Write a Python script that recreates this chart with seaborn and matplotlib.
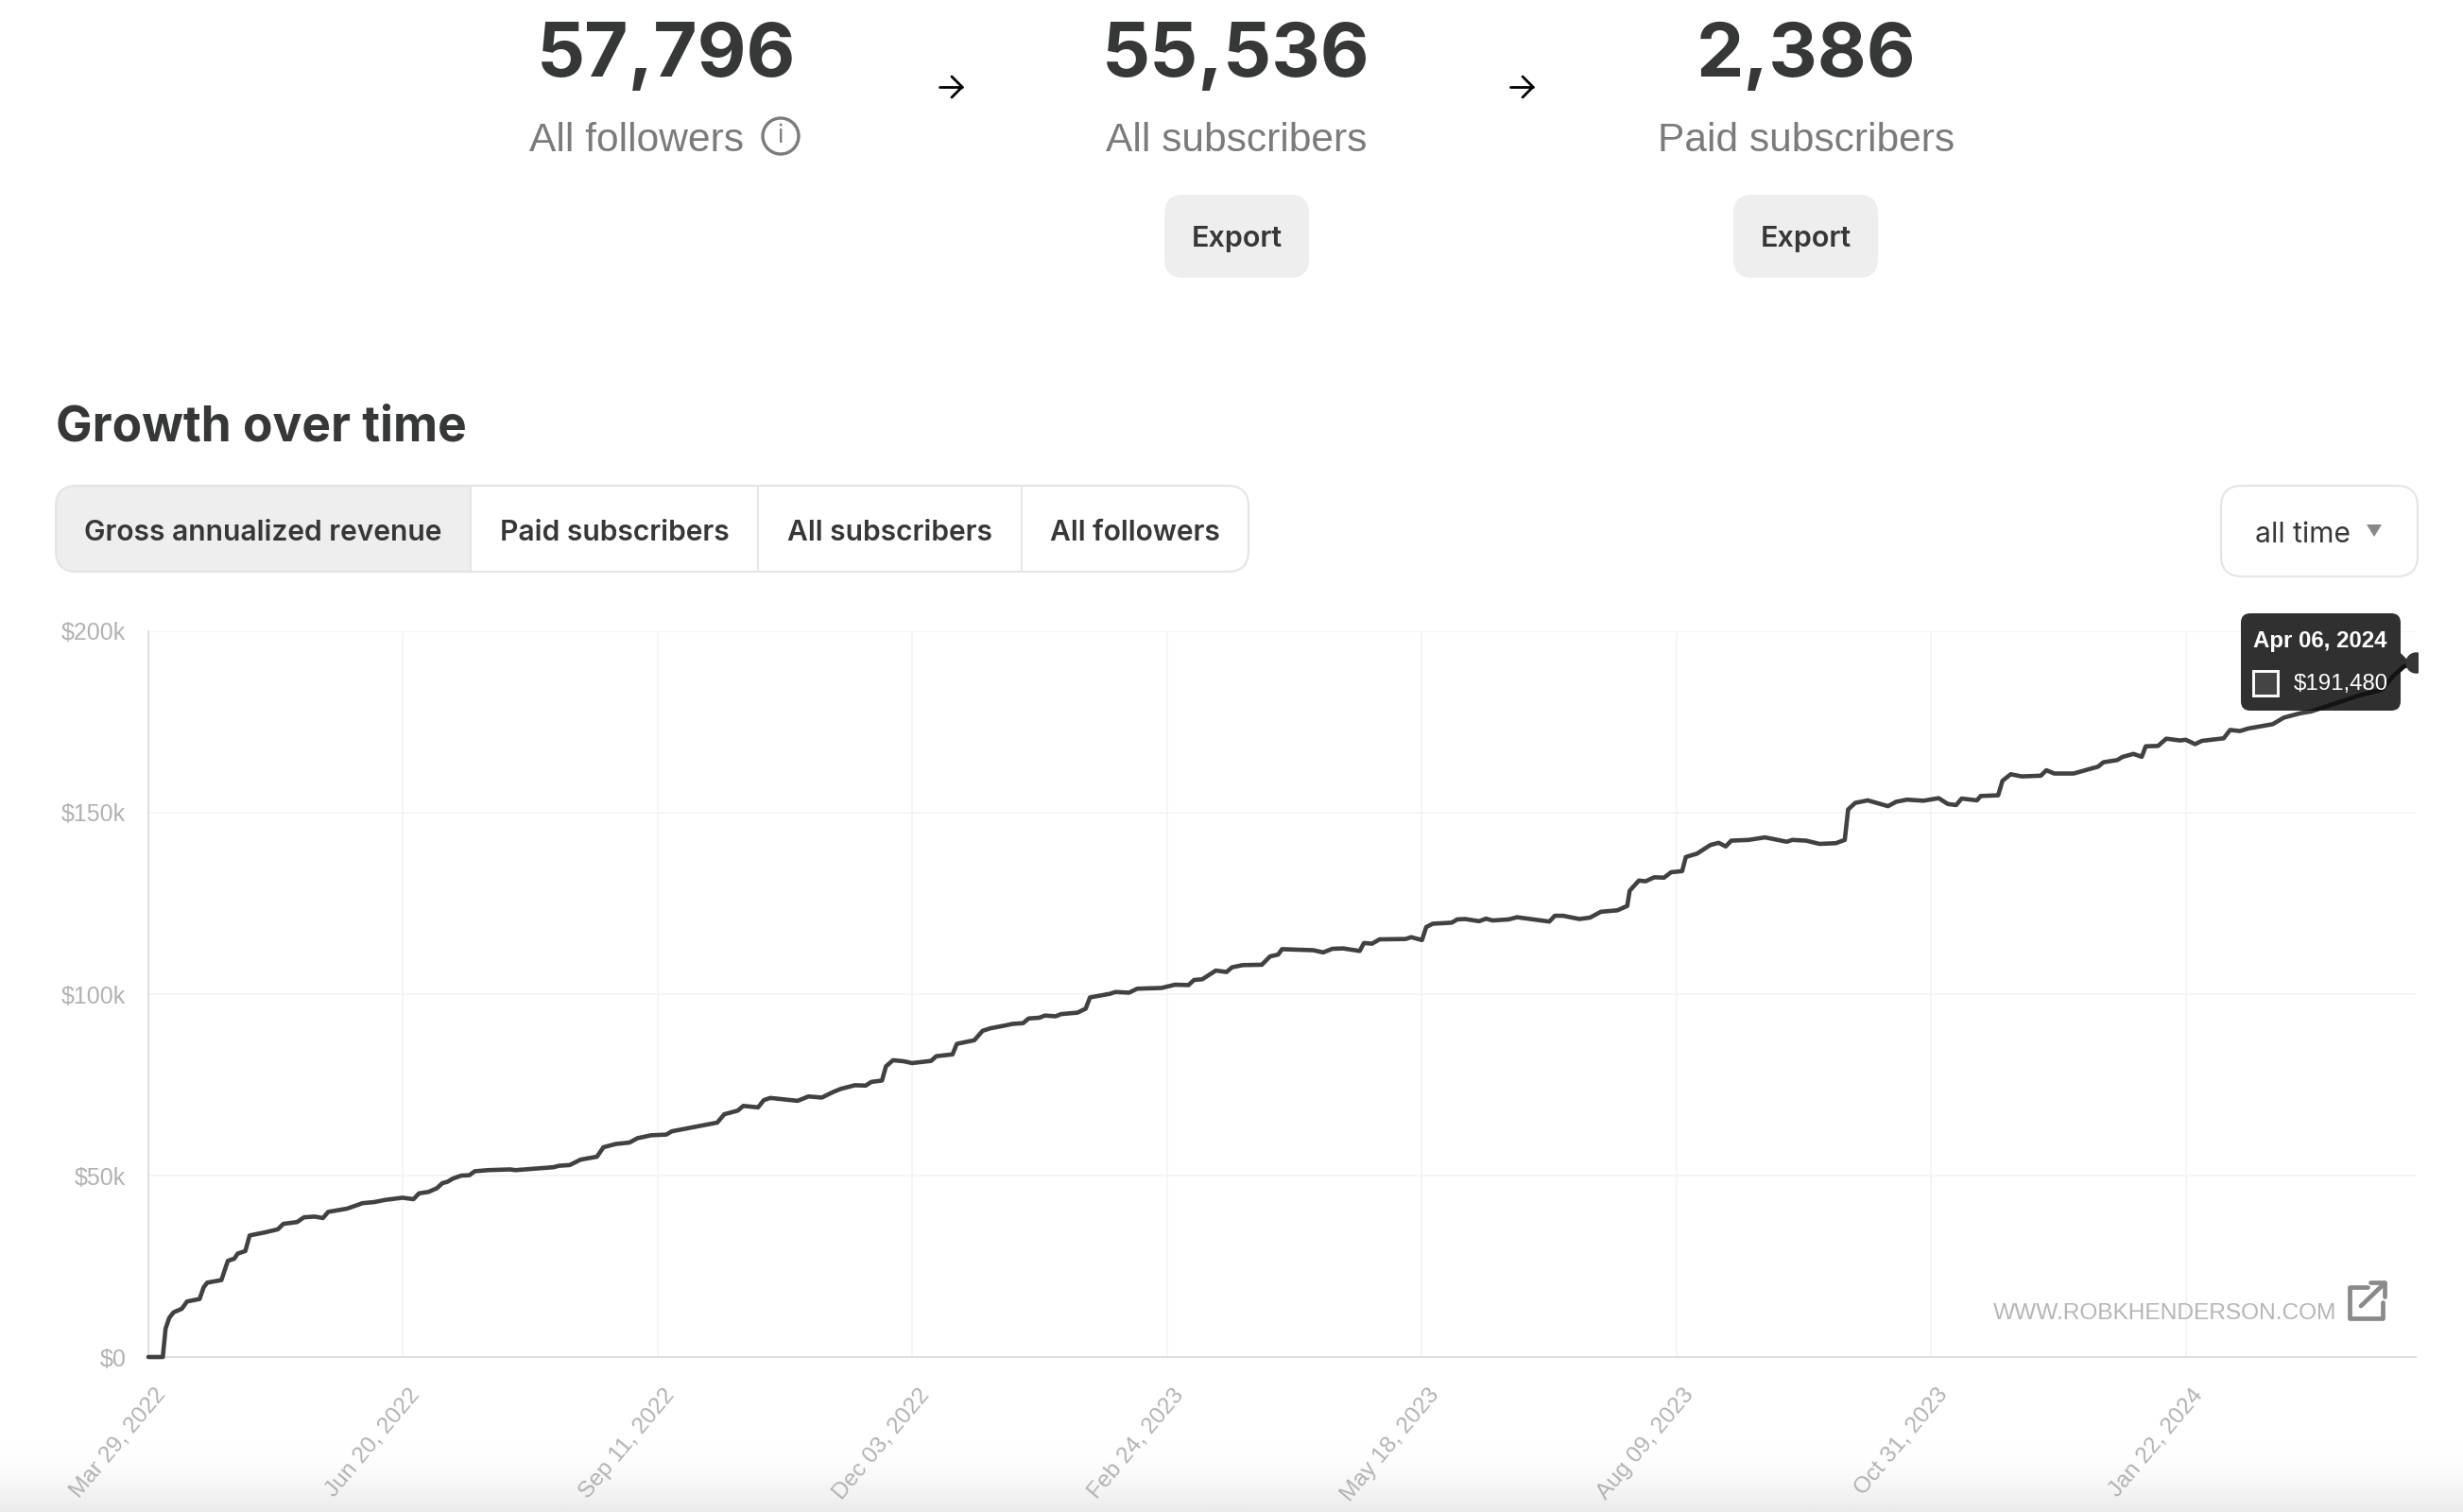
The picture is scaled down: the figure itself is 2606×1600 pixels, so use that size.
import pandas as pd
import numpy as np
import matplotlib.pyplot as plt
import matplotlib.transforms as mtrans
from matplotlib.colors import LinearSegmentedColormap
from matplotlib.patches import FancyBboxPatch, Rectangle, Circle, Polygon
from matplotlib.lines import Line2D
import seaborn as sns

# stat cards
stat_numbers = ["57,796", "55,536", "2,386"]
stat_labels = ["All followers", "All subscribers", "Paid subscribers"]
tab_labels = ["Gross annualized revenue", "Paid subscribers", "All subscribers", "All followers"]

# y axis
y_ticks = [0, 50000, 100000, 150000, 200000]
y_tick_labels = ["$0", "$50k", "$100k", "$150k", "$200k"]

# x axis
x_tick_dates = ["2022-03-29", "2022-06-20", "2022-09-11", "2022-12-03", "2023-02-24",
                "2023-05-18", "2023-08-09", "2023-10-31", "2024-01-22"]
x_tick_labels = ["Mar 29, 2022", "Jun 20, 2022", "Sep 11, 2022", "Dec 03, 2022", "Feb 24, 2023",
                 "May 18, 2023", "Aug 09, 2023", "Oct 31, 2023", "Jan 22, 2024"]

# revenue: days since Mar 29 2022, thousands of dollars
start_date = "2022-03-29"
end_date = "2024-04-06"
days = [0, 4.7, 5.6, 6.8, 8.2, 10.9, 12.6, 16.7, 18, 19.2, 23.8, 25.9, 28, 29.1, 31.6, 33, 38.3, 42.2, 44,
        48.5, 50.7, 54.2, 56.9, 58.6, 64.8, 69.8, 73.6, 77.2, 82.8, 86.4, 88.2, 91.3, 94, 95.8, 97.5, 99.3,
        102, 104.6, 106.4, 110.8, 117.9, 119.6, 132, 133.8, 137.3, 140.9, 146.2, 148.3, 152.3, 156.8, 159.4,
        163.8, 168.8, 170.6, 178, 185.4, 187.7, 192.1, 193.9, 198.7, 200.6, 202.7, 211.6, 215.1, 219.5,
        223.1, 225.7, 228.9, 230.3, 233.8, 235.6, 239.1, 240.4, 242.7, 246.2, 248.9, 255.1, 256.8, 262.1,
        263.5, 269.2, 271.9, 274.5, 278.9, 281.6, 285.1, 286.9, 290.4, 292.2, 295.7, 297.5, 302.8, 305.5,
        306.9, 313.4, 315.2, 319.6, 322.3, 330.2, 334.6, 339, 340.8, 343.5, 347.9, 351.4, 353.2, 356.7,
        362.9, 365.6, 368.2, 369.5, 379.7, 382.9, 385.9, 389.4, 394.8, 396.2, 398.8, 401.3, 409.8, 411.6,
        415.1, 416.5, 418.6, 424.8, 426.6, 429.2, 433.7, 436, 438.1, 443.4, 446.1, 451.4, 456.6, 458.4,
        461.1, 466.4, 469.9, 473.4, 478.8, 482, 482.8, 485.8, 488, 490.8, 494, 496.3, 499.9, 501.1, 504.7,
        509.1, 511.8, 514.1, 515.9, 521.6, 526.9, 534, 535.8, 540.3, 544.7, 550, 552.9, 554, 556.3, 560.4,
        567, 569.6, 573.2, 578.5, 583.5, 586.5, 589.2, 591, 596, 597.2, 602.9, 604.3, 607, 610.6, 616.8,
        618.6, 621.2, 627.5, 635.5, 637.2, 641.7, 643.5, 647, 649.7, 651, 655, 657.7, 662.2, 664, 667.1,
        669.3, 676.4, 678.5, 681.7, 684.4, 692.4, 696, 701.3, 704.9, 713.8, 720.9, 728, 731.6, 735.1, 739]
revenue_k = [0, 0, 7.8, 10.8, 12.3, 13.3, 15.3, 16, 19.2, 20.5, 21.2, 26.5, 27.1, 28.5, 29.2, 33.5, 34.4, 35.2, 36.7,
             37.2, 38.5, 38.7, 38.3, 40, 40.9, 42.4, 42.7, 43.3, 43.9, 43.5, 45.1, 45.5, 46.5, 47.9, 48.3, 49.2,
             50, 50.1, 51.2, 51.5, 51.7, 51.5, 52.3, 52.7, 52.9, 54.4, 55.2, 57.8, 58.7, 59.1, 60.3,
             61.1, 61.3, 62.2, 63.4, 64.6, 66.9, 67.9, 69.2, 68.8, 70.8, 71.4, 70.6, 71.8, 71.5,
             73, 73.9, 74.6, 74.9, 74.8, 75.8, 76.2, 80.1, 81.8, 81.5, 81, 81.6, 82.9, 83.4,
             86.3, 87.3, 89.9, 90.6, 91.3, 91.8, 92, 93.3, 93.5, 94.1, 93.9, 94.5, 94.9, 96,
             99.1, 100.1, 100.6, 100.4, 101.5, 101.7, 102.6, 102.5, 103.9, 104.1, 106.5, 106.1, 107.4, 108,
             108.1, 110.4, 110.9, 112.4, 112.1, 111.5, 112.5, 112.6, 111.9, 114.1, 113.9, 115.1, 115.2, 115.7,
             114.9, 118.5, 119.4, 119.7, 120.6, 120.7, 120.1, 120.8, 120.3, 120.6, 121.2, 120.6, 120, 121.6,
             121.6, 120.7, 121.1, 122.7, 123.1, 124.3, 128.5, 131.3, 131.1, 132.2, 132.1, 133.6, 133.9, 137.8, 138.7,
             141.1, 141.7, 140.7, 142.3, 142.5, 143.2, 142, 142.5, 142.3, 141.4, 141.6, 142.5, 150.9, 152.7, 153.4,
             151.8, 153, 153.6, 153.3, 154, 152.4, 152.1, 153.9, 153.4, 154.6, 154.8, 158.8, 160.6, 160, 160.2,
             161.7, 160.8, 160.8, 162.7, 163.9, 164.5, 165.4, 166.2, 165.4, 168.3, 168.4, 170.4, 169.9, 170.1, 168.9,
             169.8, 170.5, 172.8, 172.5, 173.2, 174.4, 176.2, 177.4, 177.9, 180.4, 182.4, 183.9, 187.6, 190.3, 191.48]

df = pd.DataFrame({"days": days, "revenue_k": revenue_k})
df["date"] = pd.to_datetime(start_date) + pd.to_timedelta(df["days"], unit="D")
df["revenue"] = df["revenue_k"] * 1000

W, H = 2606, 1600
UI = "Inter"
CHART = "Liberation Sans"
DARK = "#363838"
GREY = "#7b7b7b"
BORDER = "#e4e4e4"
TICK = "#b2b2b2"
LINE = "#414141"

sns.set_theme(style="whitegrid")
plt.rcParams["font.family"] = ["Inter", "Liberation Sans", "DejaVu Sans"]


def pt(px):
    return px * 0.72


def pixel_axes(zorder):
    a = fig.add_axes([0, 0, 1, 1], zorder=zorder)
    a.set_xlim(0, W)
    a.set_ylim(H, 0)
    a.axis("off")
    a.patch.set_alpha(0)
    return a


def rbox(a, x, y, w, h, r, fc, ec="none", lw=0):
    p = FancyBboxPatch((x + r, y + r), w - 2 * r, h - 2 * r, boxstyle=f"round,pad={r},rounding_size={r}",
                       fc=fc, ec=ec, lw=lw)
    a.add_patch(p)
    return p


fig = plt.figure(figsize=(W / 100, H / 100), dpi=100, facecolor="white")

# bottom fade of the screenshot
bg = pixel_axes(0)
fade_cmap = LinearSegmentedColormap.from_list("fade", ["#ffffff", "#ebebeb"])
fade = np.linspace(0, 1, 72).reshape(-1, 1) ** 1.7
bg.imshow(fade, extent=[0, W, H, 1528], aspect="auto", cmap=fade_cmap, vmin=0, vmax=1, interpolation="bilinear")
bg.set_xlim(0, W)
bg.set_ylim(H, 0)

# chart
x0, x1 = 157, 2556
y0, y1 = 1436, 668
chart_pos = [x0 / W, 1 - y0 / H, (x1 - x0) / W, (y0 - y1) / H]
ax = fig.add_axes(chart_pos, zorder=1)
ax.patch.set_alpha(0)
sns.lineplot(data=df, x="date", y="revenue", ax=ax, color=LINE, linewidth=3.3, errorbar=None, estimator=None)
ax.lines[0].set_clip_on(False)
ax.lines[0].set_zorder(3)
ax.lines[0].set_solid_joinstyle("round")
ax.set_xlim(pd.to_datetime(start_date), pd.to_datetime(end_date))
ax.set_ylim(0, 200000)
ax.set_xlabel("")
ax.set_ylabel("")
ax.set_yticks(y_ticks)
ax.set_yticklabels(y_tick_labels, fontsize=pt(25), color=TICK, family=CHART)
ax.set_xticks(pd.to_datetime(x_tick_dates))
ax.set_xticklabels(x_tick_labels, fontsize=pt(24.5), color=TICK, family=CHART, rotation=50, ha="right",
                   va="top", rotation_mode="anchor")
ax.tick_params(axis="x", length=13, width=1, color="#ececec", pad=8)
ax.tick_params(axis="y", length=12, width=1, color="#ececec", pad=5)
ax.grid(True, color="#f4f4f4", linewidth=1.2)
for side in ["top", "right"]:
    ax.spines[side].set_visible(False)
for side in ["left", "bottom"]:
    ax.spines[side].set_color("#dedede")
    ax.spines[side].set_linewidth(1.4)
ax.set_axisbelow(True)
# shift the date labels so their ends sit just right of the ticks
shift = mtrans.ScaledTranslation(6 / 100, 0, fig.dpi_scale_trans)
for lab in ax.get_xticklabels():
    lab.set_transform(lab.get_transform() + shift)

# interface layer on top of the chart
ui = pixel_axes(2)

for cx, num in zip([705, 1308, 1911], stat_numbers):
    ui.text(cx, 60, num, ha="center", va="center", fontsize=pt(80), fontweight="bold", color=DARK, family=UI)
for cx, lab in zip([674, 1308, 1911], stat_labels):
    ui.text(cx, 149, lab, ha="center", va="center", fontsize=pt(42.5), color=GREY, family=CHART)

# info icon
ui.add_patch(Circle((826, 144), 19, fc="none", ec=GREY, lw=2.4))
ui.text(826, 144, "i", ha="center", va="center", fontsize=pt(26), color=GREY, family=UI)

# arrows
for arrow_x in [1006, 1610]:
    ui.add_line(Line2D([arrow_x - 12, arrow_x + 12], [92, 92], color="black", lw=2))
    ui.add_line(Line2D([arrow_x + 1, arrow_x + 12, arrow_x + 1], [81, 92, 103], color="black", lw=2))

# export buttons
for bx in [1232, 1834]:
    rbox(ui, bx, 206, 153, 88, 20, "#eeeeee")
    ui.text(bx + 76.5, 253, "Export", ha="center", va="center", fontsize=pt(30.5), fontweight="semibold", color=DARK,
            family=UI)

ui.text(59, 453, "Growth over time", ha="left", va="center", fontsize=pt(51.5), fontweight="bold", color=DARK,
        family=UI)

# tabs
tab_edges = [59, 498, 802, 1081, 1321]
clip_box = rbox(ui, 59, 514, 1262, 91, 22, "white")
first = Rectangle((59, 514), 439, 91, fc="#eeeeee", ec="none")
ui.add_patch(first)
first.set_clip_path(clip_box)
rbox(ui, 59, 514, 1262, 91, 22, "none", ec=BORDER, lw=1.5)
for edge in tab_edges[1:-1]:
    ui.add_line(Line2D([edge, edge], [514, 605], color=BORDER, lw=1.3))
for left, right, lab in zip(tab_edges[:-1], tab_edges[1:], tab_labels):
    ui.text((left + right) / 2, 564, lab, ha="center", va="center", fontsize=pt(30), fontweight="semibold",
            color=DARK, family=UI)

# range selector
rbox(ui, 2350, 514, 208, 96, 22, "white", ec=BORDER, lw=1.5)
ui.text(2437, 566, "all time", ha="center", va="center", fontsize=pt(30), color=DARK, family=UI)
ui.add_patch(Polygon([[2504, 555], [2520, 555], [2512, 568]], fc="#888888", ec="none"))

# tooltip box, with its pointer towards the last point
tip = rbox(ui, 2371, 649, 169, 103, 10, "#303030")
ui.add_patch(Polygon([[2539, 690], [2550, 701], [2539, 708]], fc="#303030", ec="none"))

# same line again, darker where it crosses the tooltip, and the end marker
over = fig.add_axes(chart_pos, zorder=3)
over.patch.set_alpha(0)
sns.lineplot(data=df, x="date", y="revenue", ax=over, color="#131313", linewidth=3.3, errorbar=None, estimator=None)
sns.scatterplot(data=df.tail(1), x="date", y="revenue", ax=over, color="#363636", s=260, linewidth=0, zorder=5)
over.set_xlim(pd.to_datetime(start_date), pd.to_datetime(end_date))
over.set_ylim(0, 200000)
over.axis("off")
over.lines[0].set_clip_path(Rectangle((2371, 649), 180, 103, transform=ui.transData))
over.collections[0].set_clip_path(Rectangle((2530, 680), 28, 50, transform=ui.transData))

# text over the tooltip, watermark
top = pixel_axes(4)
top.text(2455, 679, "Apr 06, 2024", ha="center", va="center", fontsize=pt(24), fontweight="bold", color="white",
         family=CHART)
top.add_patch(Rectangle((2384, 710), 26, 26, fc="#444444", ec="white", lw=2.1))
top.text(2477, 724, "$191,480", ha="center", va="center", fontsize=pt(24), color="white", family=CHART)

top.text(2472, 1390, "WWW.ROBKHENDERSON.COM", ha="right", va="center", fontsize=pt(24.5), color="#b6b6b6",
         family=CHART)
top.add_line(Line2D([2505, 2486, 2486, 2521, 2521], [1362, 1362, 1395, 1395, 1378], color="#8a8a8a", lw=3.4,
                    solid_joinstyle="round"))
top.add_line(Line2D([2498, 2523], [1382, 1358], color="#8a8a8a", lw=3.4))
top.add_line(Line2D([2508, 2523, 2523], [1357, 1357, 1372], color="#8a8a8a", lw=3.4))

fig.savefig("out.png", dpi=100)
